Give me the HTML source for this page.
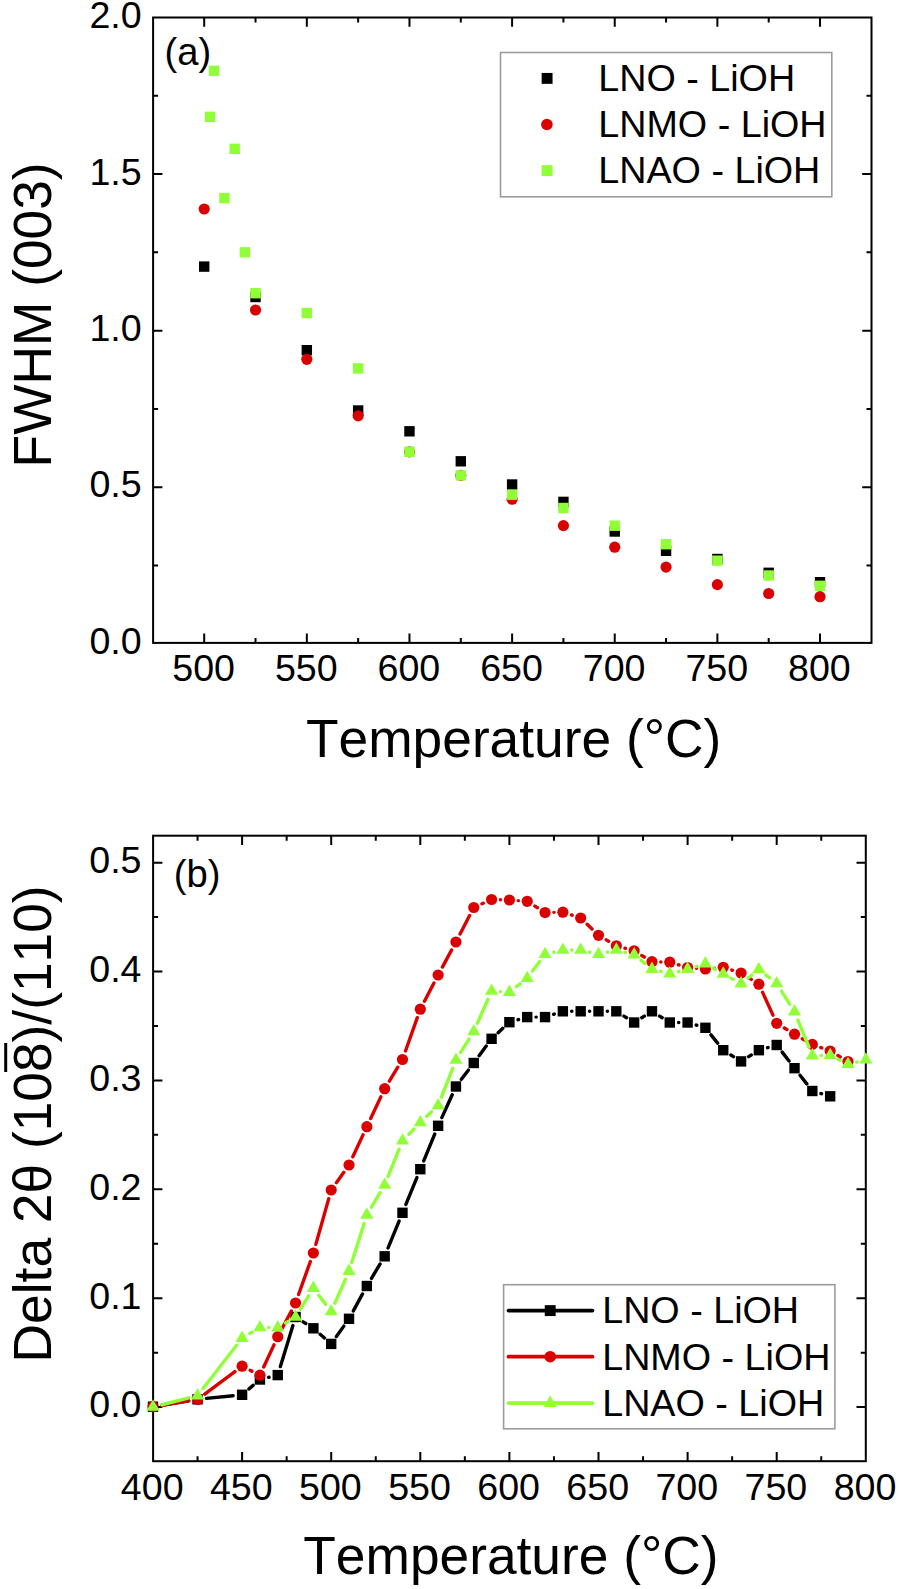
<!DOCTYPE html>
<html><head><meta charset="utf-8"><title>FWHM and Delta 2theta vs Temperature</title>
<style>html,body{margin:0;padding:0;background:#fff;}svg{display:block;}text{fill:#000;font-kerning:none;}</style></head>
<body><svg width="900" height="1589" viewBox="0 0 900 1589" style="font-family:'Liberation Sans',Arial,sans-serif">
<rect width="900" height="1589" fill="#fff"/>
<rect x="153.1" y="17.5" width="718.4" height="625.4" fill="none" stroke="#000" stroke-width="2.0"/>
<path d="M204.2 642.9v-9.3M204.2 17.5v9.3M306.83 642.9v-9.3M306.83 17.5v9.3M409.47 642.9v-9.3M409.47 17.5v9.3M512.11 642.9v-9.3M512.11 17.5v9.3M614.74 642.9v-9.3M614.74 17.5v9.3M717.38 642.9v-9.3M717.38 17.5v9.3M820.01 642.9v-9.3M820.01 17.5v9.3M255.52 642.9v-5.0M255.52 17.5v5.0M358.15 642.9v-5.0M358.15 17.5v5.0M460.79 642.9v-5.0M460.79 17.5v5.0M563.42 642.9v-5.0M563.42 17.5v5.0M666.06 642.9v-5.0M666.06 17.5v5.0M768.69 642.9v-5.0M768.69 17.5v5.0M153.1 487.27h9.3M871.5 487.27h-9.3M153.1 330.65h9.3M871.5 330.65h-9.3M153.1 174.02h9.3M871.5 174.02h-9.3M153.1 565.59h5.0M871.5 565.59h-5.0M153.1 408.96h5.0M871.5 408.96h-5.0M153.1 252.34h5.0M871.5 252.34h-5.0M153.1 95.71h5.0M871.5 95.71h-5.0" stroke="#000" stroke-width="2.0" fill="none"/>
<text x="141.7" y="653.8" text-anchor="end" font-size="37.6">0.0</text>
<text x="141.7" y="497.4" text-anchor="end" font-size="37.6">0.5</text>
<text x="141.7" y="340.9" text-anchor="end" font-size="37.6">1.0</text>
<text x="141.7" y="185.1" text-anchor="end" font-size="37.6">1.5</text>
<text x="141.7" y="28.4" text-anchor="end" font-size="37.6">2.0</text>
<text x="203.6" y="681.3" text-anchor="middle" font-size="37.6">500</text>
<text x="306.23" y="681.3" text-anchor="middle" font-size="37.6">550</text>
<text x="408.87" y="681.3" text-anchor="middle" font-size="37.6">600</text>
<text x="511.5" y="681.3" text-anchor="middle" font-size="37.6">650</text>
<text x="614.14" y="681.3" text-anchor="middle" font-size="37.6">700</text>
<text x="716.77" y="681.3" text-anchor="middle" font-size="37.6">750</text>
<text x="819.41" y="681.3" text-anchor="middle" font-size="37.6">800</text>
<text x="306.0" y="756.6" font-size="53.3">Temperature (°C)</text>
<text transform="translate(51,467.4) rotate(-90)" font-size="53.3">FWHM (003)</text>
<text x="164.5" y="64.8" font-size="38.2">(a)</text>
<rect x="199" y="261.4" width="10.4" height="10.4" fill="#000000"/>
<rect x="250.32" y="291.8" width="10.4" height="10.4" fill="#000000"/>
<rect x="301.63" y="345" width="10.4" height="10.4" fill="#000000"/>
<rect x="352.95" y="405.3" width="10.4" height="10.4" fill="#000000"/>
<rect x="404.27" y="426.1" width="10.4" height="10.4" fill="#000000"/>
<rect x="455.59" y="456.1" width="10.4" height="10.4" fill="#000000"/>
<rect x="506.91" y="479.3" width="10.4" height="10.4" fill="#000000"/>
<rect x="558.22" y="496.7" width="10.4" height="10.4" fill="#000000"/>
<rect x="609.54" y="526.3" width="10.4" height="10.4" fill="#000000"/>
<rect x="660.86" y="545.6" width="10.4" height="10.4" fill="#000000"/>
<rect x="712.17" y="553.8" width="10.4" height="10.4" fill="#000000"/>
<rect x="763.49" y="567.6" width="10.4" height="10.4" fill="#000000"/>
<rect x="814.81" y="577" width="10.4" height="10.4" fill="#000000"/>
<circle cx="204.2" cy="209" r="5.6" fill="#DB0000"/>
<circle cx="255.52" cy="310" r="5.6" fill="#DB0000"/>
<circle cx="306.83" cy="359.3" r="5.6" fill="#DB0000"/>
<circle cx="358.15" cy="415.8" r="5.6" fill="#DB0000"/>
<circle cx="409.47" cy="451.8" r="5.6" fill="#DB0000"/>
<circle cx="460.79" cy="475.4" r="5.6" fill="#DB0000"/>
<circle cx="512.11" cy="499.2" r="5.6" fill="#DB0000"/>
<circle cx="563.42" cy="525.6" r="5.6" fill="#DB0000"/>
<circle cx="614.74" cy="547.2" r="5.6" fill="#DB0000"/>
<circle cx="666.06" cy="567.1" r="5.6" fill="#DB0000"/>
<circle cx="717.38" cy="584.6" r="5.6" fill="#DB0000"/>
<circle cx="768.69" cy="593.5" r="5.6" fill="#DB0000"/>
<circle cx="820.01" cy="596.7" r="5.6" fill="#DB0000"/>
<rect x="208.8" y="65.6" width="10.4" height="10.4" fill="#91FF38"/>
<rect x="204.8" y="111.6" width="10.4" height="10.4" fill="#91FF38"/>
<rect x="229.5" y="143.6" width="10.4" height="10.4" fill="#91FF38"/>
<rect x="219.2" y="192.9" width="10.4" height="10.4" fill="#91FF38"/>
<rect x="239.7" y="247.1" width="10.4" height="10.4" fill="#91FF38"/>
<rect x="250.32" y="288" width="10.4" height="10.4" fill="#91FF38"/>
<rect x="301.63" y="307.8" width="10.4" height="10.4" fill="#91FF38"/>
<rect x="352.95" y="363.2" width="10.4" height="10.4" fill="#91FF38"/>
<rect x="404.27" y="446.6" width="10.4" height="10.4" fill="#91FF38"/>
<rect x="455.59" y="470.2" width="10.4" height="10.4" fill="#91FF38"/>
<rect x="506.91" y="489.5" width="10.4" height="10.4" fill="#91FF38"/>
<rect x="558.22" y="502.8" width="10.4" height="10.4" fill="#91FF38"/>
<rect x="609.54" y="520.5" width="10.4" height="10.4" fill="#91FF38"/>
<rect x="660.86" y="539" width="10.4" height="10.4" fill="#91FF38"/>
<rect x="712.17" y="555.5" width="10.4" height="10.4" fill="#91FF38"/>
<rect x="763.49" y="570.3" width="10.4" height="10.4" fill="#91FF38"/>
<rect x="814.81" y="580.6" width="10.4" height="10.4" fill="#91FF38"/>
<rect x="500.5" y="52.5" width="331.3" height="144.3" fill="none" stroke="#9c9c9c" stroke-width="1.6"/>
<rect x="541.65" y="72.95" width="10.9" height="10.9" fill="#000000"/>
<circle cx="546.9" cy="124.5" r="5.8" fill="#DB0000"/>
<rect x="541.65" y="165.15" width="10.9" height="10.9" fill="#91FF38"/>
<text x="598.3" y="90.8" font-size="37.7">LNO - LiOH</text>
<text x="598.3" y="136.7" font-size="37.7">LNMO - LiOH</text>
<text x="598.3" y="183.0" font-size="37.7">LNAO - LiOH</text>
<rect x="153.1" y="835.7" width="712.7" height="625.5" fill="none" stroke="#000" stroke-width="2.0"/>
<path d="M242.1 1461.2v-9.3M242.1 835.7v9.3M331.2 1461.2v-9.3M331.2 835.7v9.3M420.3 1461.2v-9.3M420.3 835.7v9.3M509.4 1461.2v-9.3M509.4 835.7v9.3M598.5 1461.2v-9.3M598.5 835.7v9.3M687.6 1461.2v-9.3M687.6 835.7v9.3M776.7 1461.2v-9.3M776.7 835.7v9.3M197.55 1461.2v-5.0M197.55 835.7v5.0M286.65 1461.2v-5.0M286.65 835.7v5.0M375.75 1461.2v-5.0M375.75 835.7v5.0M464.85 1461.2v-5.0M464.85 835.7v5.0M553.95 1461.2v-5.0M553.95 835.7v5.0M643.05 1461.2v-5.0M643.05 835.7v5.0M732.15 1461.2v-5.0M732.15 835.7v5.0M821.25 1461.2v-5.0M821.25 835.7v5.0M153.1 1407.07h9.3M865.8 1407.07h-9.3M153.1 1298.19h9.3M865.8 1298.19h-9.3M153.1 1189.31h9.3M865.8 1189.31h-9.3M153.1 1080.43h9.3M865.8 1080.43h-9.3M153.1 971.55h9.3M865.8 971.55h-9.3M153.1 862.67h9.3M865.8 862.67h-9.3M153.1 1352.63h5.0M865.8 1352.63h-5.0M153.1 1243.75h5.0M865.8 1243.75h-5.0M153.1 1134.87h5.0M865.8 1134.87h-5.0M153.1 1025.99h5.0M865.8 1025.99h-5.0M153.1 917.11h5.0M865.8 917.11h-5.0" stroke="#000" stroke-width="2.0" fill="none"/>
<text x="141.5" y="1417.47" text-anchor="end" font-size="37.6">0.0</text>
<text x="141.5" y="1308.59" text-anchor="end" font-size="37.6">0.1</text>
<text x="141.5" y="1199.71" text-anchor="end" font-size="37.6">0.2</text>
<text x="141.5" y="1090.83" text-anchor="end" font-size="37.6">0.3</text>
<text x="141.5" y="981.95" text-anchor="end" font-size="37.6">0.4</text>
<text x="141.5" y="873.07" text-anchor="end" font-size="37.6">0.5</text>
<text x="152.2" y="1500.3" text-anchor="middle" font-size="37.6">400</text>
<text x="241.3" y="1500.3" text-anchor="middle" font-size="37.6">450</text>
<text x="330.4" y="1500.3" text-anchor="middle" font-size="37.6">500</text>
<text x="419.5" y="1500.3" text-anchor="middle" font-size="37.6">550</text>
<text x="508.6" y="1500.3" text-anchor="middle" font-size="37.6">600</text>
<text x="597.7" y="1500.3" text-anchor="middle" font-size="37.6">650</text>
<text x="686.8" y="1500.3" text-anchor="middle" font-size="37.6">700</text>
<text x="775.9" y="1500.3" text-anchor="middle" font-size="37.6">750</text>
<text x="865" y="1500.3" text-anchor="middle" font-size="37.6">800</text>
<text x="303.3" y="1574.0" font-size="53.3">Temperature (°C)</text>
<text transform="translate(51,1362.4) rotate(-90)" font-size="53.3">Delta 2θ (108)/(110)</text>
<rect x="4.2" y="1043" width="3" height="29" fill="#000"/>
<text x="173.8" y="887.4" font-size="38.2">(b)</text>
<path d="M161.88 1405.23L188.67 1400.77M206.5 1398.4L233.15 1395.7M248.93 1388.94L253.09 1385.36M268.66 1377.34L269 1377.26M280.38 1366.5L292.92 1325.6M303.16 1321.82L305.78 1323.48M320.15 1334.23L324.43 1337.97M336.41 1336.56L343.81 1326.14M353.32 1310.89L362.54 1293.91M371.47 1278.28L380.03 1264.02M388.07 1247.97L399.07 1221.13M405.89 1204.47L416.89 1177.53M423.72 1160.87L434.7 1134.13M441.84 1117.6L452.22 1094.7M461.38 1079.33L468.32 1070.17M479.1 1055.75L486.24 1046.05M498.17 1032.67L502.81 1028.33M518.05 1019.72L518.57 1019.58M536.22 1017.1L536.04 1017.1M553.6 1014.31L554.3 1014.09M571.86 1011.3L571.68 1011.3M589.68 1011.3L589.5 1011.3M607.5 1011.3L607.32 1011.3M623.94 1016.09L626.52 1017.71M641.76 1017.71L644.34 1016.09M659.58 1016.09L662.16 1017.71M678.78 1022.5L678.6 1022.5M696.23 1025.07L696.79 1025.23M711.02 1034.84L717.64 1043.16M730.86 1054.99L733.44 1056.61M748.68 1056.61L751.26 1054.99M767.52 1047.68L768.06 1047.52M782.18 1052.14L789.04 1061.06M800.06 1075.29L806.8 1083.91M820.97 1093.57L821.53 1093.73" stroke="#000000" stroke-width="3.4" stroke-linecap="round" fill="none"/>
<rect x="147.8" y="1401.5" width="10.4" height="10.4" fill="#000000"/>
<rect x="192.35" y="1394.1" width="10.4" height="10.4" fill="#000000"/>
<rect x="236.9" y="1389.6" width="10.4" height="10.4" fill="#000000"/>
<rect x="254.72" y="1374.3" width="10.4" height="10.4" fill="#000000"/>
<rect x="272.54" y="1369.9" width="10.4" height="10.4" fill="#000000"/>
<rect x="290.36" y="1311.8" width="10.4" height="10.4" fill="#000000"/>
<rect x="308.18" y="1323.1" width="10.4" height="10.4" fill="#000000"/>
<rect x="326" y="1338.7" width="10.4" height="10.4" fill="#000000"/>
<rect x="343.82" y="1313.6" width="10.4" height="10.4" fill="#000000"/>
<rect x="361.64" y="1280.8" width="10.4" height="10.4" fill="#000000"/>
<rect x="379.46" y="1251.1" width="10.4" height="10.4" fill="#000000"/>
<rect x="397.28" y="1207.6" width="10.4" height="10.4" fill="#000000"/>
<rect x="415.1" y="1164" width="10.4" height="10.4" fill="#000000"/>
<rect x="432.92" y="1120.6" width="10.4" height="10.4" fill="#000000"/>
<rect x="450.74" y="1081.3" width="10.4" height="10.4" fill="#000000"/>
<rect x="468.56" y="1057.8" width="10.4" height="10.4" fill="#000000"/>
<rect x="486.38" y="1033.6" width="10.4" height="10.4" fill="#000000"/>
<rect x="504.2" y="1017" width="10.4" height="10.4" fill="#000000"/>
<rect x="522.02" y="1011.9" width="10.4" height="10.4" fill="#000000"/>
<rect x="539.84" y="1011.9" width="10.4" height="10.4" fill="#000000"/>
<rect x="557.66" y="1006.1" width="10.4" height="10.4" fill="#000000"/>
<rect x="575.48" y="1006.1" width="10.4" height="10.4" fill="#000000"/>
<rect x="593.3" y="1006.1" width="10.4" height="10.4" fill="#000000"/>
<rect x="611.12" y="1006.1" width="10.4" height="10.4" fill="#000000"/>
<rect x="628.94" y="1017.3" width="10.4" height="10.4" fill="#000000"/>
<rect x="646.76" y="1006.1" width="10.4" height="10.4" fill="#000000"/>
<rect x="664.58" y="1017.3" width="10.4" height="10.4" fill="#000000"/>
<rect x="682.4" y="1017.3" width="10.4" height="10.4" fill="#000000"/>
<rect x="700.22" y="1022.6" width="10.4" height="10.4" fill="#000000"/>
<rect x="718.04" y="1045" width="10.4" height="10.4" fill="#000000"/>
<rect x="735.86" y="1056.2" width="10.4" height="10.4" fill="#000000"/>
<rect x="753.68" y="1045" width="10.4" height="10.4" fill="#000000"/>
<rect x="771.5" y="1039.8" width="10.4" height="10.4" fill="#000000"/>
<rect x="789.32" y="1063" width="10.4" height="10.4" fill="#000000"/>
<rect x="807.14" y="1085.8" width="10.4" height="10.4" fill="#000000"/>
<rect x="824.96" y="1091.1" width="10.4" height="10.4" fill="#000000"/>
<path d="M161.88 1405.26L188.67 1400.94M204.76 1394.11L234.89 1371.59M250.13 1370.26L251.89 1371.14M263.7 1367.03L273.96 1344.87M281.95 1328.74L291.35 1310.96M298.58 1294.52L310.36 1261.48M315.83 1244.34L328.75 1198.66M336.42 1182.67L343.8 1172.33M352.82 1156.84L363.04 1134.86M370.66 1118.55L380.84 1096.85M389.35 1081.02L397.79 1067.18M405.49 1051.02L417.29 1017.68M424.46 1001.22L433.96 982.98M442.4 967.08L451.66 949.92M460.07 934L469.63 915.5M481.97 903.81L483.37 903.19M500.58 899.75L500.4 899.75M518.38 900.65L518.24 900.65M534.84 906.09L537.42 907.71M554.04 912.35L553.86 912.35M571.42 914.99L572.12 915.21M587.14 924.27L592.04 929.03M606.25 939.87L608.57 941.23M624.99 948.23L625.47 948.37M641.82 955.5L644.28 957M660.96 961.95L660.78 961.95M678.41 964.77L678.97 964.93M696.57 968.25L696.45 968.25M714.38 968.15L714.28 968.15M731.81 970.04L732.49 970.26M748.68 977.79L751.26 979.41M762.61 992.39L772.97 1015.11M784.38 1028L786.84 1029.5M802.33 1038.67L804.53 1039.93M820.78 1047.53L821.72 1047.87M837.91 1055.57L840.23 1056.93" stroke="#DB0000" stroke-width="3.4" stroke-linecap="round" fill="none"/>
<circle cx="153" cy="1406.7" r="5.6" fill="#DB0000"/>
<circle cx="197.55" cy="1399.5" r="5.6" fill="#DB0000"/>
<circle cx="242.1" cy="1366.2" r="5.6" fill="#DB0000"/>
<circle cx="259.92" cy="1375.2" r="5.6" fill="#DB0000"/>
<circle cx="277.74" cy="1336.7" r="5.6" fill="#DB0000"/>
<circle cx="295.56" cy="1303" r="5.6" fill="#DB0000"/>
<circle cx="313.38" cy="1253" r="5.6" fill="#DB0000"/>
<circle cx="331.2" cy="1190" r="5.6" fill="#DB0000"/>
<circle cx="349.02" cy="1165" r="5.6" fill="#DB0000"/>
<circle cx="366.84" cy="1126.7" r="5.6" fill="#DB0000"/>
<circle cx="384.66" cy="1088.7" r="5.6" fill="#DB0000"/>
<circle cx="402.48" cy="1059.5" r="5.6" fill="#DB0000"/>
<circle cx="420.3" cy="1009.2" r="5.6" fill="#DB0000"/>
<circle cx="438.12" cy="975" r="5.6" fill="#DB0000"/>
<circle cx="455.94" cy="942" r="5.6" fill="#DB0000"/>
<circle cx="473.76" cy="907.5" r="5.6" fill="#DB0000"/>
<circle cx="491.58" cy="899.5" r="5.6" fill="#DB0000"/>
<circle cx="509.4" cy="900" r="5.6" fill="#DB0000"/>
<circle cx="527.22" cy="901.3" r="5.6" fill="#DB0000"/>
<circle cx="545.04" cy="912.5" r="5.6" fill="#DB0000"/>
<circle cx="562.86" cy="912.2" r="5.6" fill="#DB0000"/>
<circle cx="580.68" cy="918" r="5.6" fill="#DB0000"/>
<circle cx="598.5" cy="935.3" r="5.6" fill="#DB0000"/>
<circle cx="616.32" cy="945.8" r="5.6" fill="#DB0000"/>
<circle cx="634.14" cy="950.8" r="5.6" fill="#DB0000"/>
<circle cx="651.96" cy="961.7" r="5.6" fill="#DB0000"/>
<circle cx="669.78" cy="962.2" r="5.6" fill="#DB0000"/>
<circle cx="687.6" cy="967.5" r="5.6" fill="#DB0000"/>
<circle cx="705.42" cy="969" r="5.6" fill="#DB0000"/>
<circle cx="723.24" cy="967.3" r="5.6" fill="#DB0000"/>
<circle cx="741.06" cy="973" r="5.6" fill="#DB0000"/>
<circle cx="758.88" cy="984.2" r="5.6" fill="#DB0000"/>
<circle cx="776.7" cy="1023.3" r="5.6" fill="#DB0000"/>
<circle cx="794.52" cy="1034.2" r="5.6" fill="#DB0000"/>
<circle cx="812.34" cy="1044.4" r="5.6" fill="#DB0000"/>
<circle cx="830.16" cy="1051" r="5.6" fill="#DB0000"/>
<circle cx="847.98" cy="1061.5" r="5.6" fill="#DB0000"/>
<path d="M161.72 1404.77L188.83 1397.83M203.06 1388.49L236.59 1345.21M249.83 1333.5L252.19 1332.1M268.92 1327.55L268.74 1327.55M285.47 1323L287.83 1321.6M300.3 1309.35L308.64 1295.85M318.85 1295.35L325.73 1304.35M334.83 1303.27L345.39 1279.33M351.74 1262.52L364.12 1223.48M371.45 1207.17L380.05 1192.73M388.03 1176.65L399.11 1149.15M408.76 1134.35L414.02 1128.95M426.81 1116.29L431.61 1111.71M441.4 1097.12L452.66 1068.38M460.71 1052.37L468.99 1039.13M477.38 1023.26L487.96 999.24M500.56 991.6L500.42 991.6M516.5 986.66L520.12 983.84M532.59 971.07L539.67 961.53M553.79 952.19L554.11 952.11M571.86 950L571.68 950M589.43 952.11L589.75 952.19M607.24 952.14L607.58 952.06M625.01 952.24L625.45 952.36M641.14 960.36L644.96 963.44M660.66 971.4L661.08 971.5M678.49 971.55L678.89 971.45M696.2 966.55L696.82 966.35M713.23 968.17L715.43 969.43M731.14 978.2L733.16 979.3M748.1 977.99L751.84 975.01M765.94 974.98L769.64 977.92M781.51 991.11L789.71 1004.09M797.91 1020.04L808.95 1047.26M821.34 1055.45L821.16 1055.45M838.19 1059.36L839.95 1060.24M856.71 1062.1L857.07 1062" stroke="#91FF38" stroke-width="3.4" stroke-linecap="round" fill="none"/>
<path d="M153 1399.4L159.58 1410.8L146.42 1410.8Z" fill="#91FF38"/>
<path d="M197.55 1388L204.13 1399.4L190.97 1399.4Z" fill="#91FF38"/>
<path d="M242.1 1330.5L248.68 1341.9L235.52 1341.9Z" fill="#91FF38"/>
<path d="M259.92 1319.9L266.5 1331.3L253.34 1331.3Z" fill="#91FF38"/>
<path d="M277.74 1320L284.32 1331.4L271.16 1331.4Z" fill="#91FF38"/>
<path d="M295.56 1309.4L302.14 1320.8L288.98 1320.8Z" fill="#91FF38"/>
<path d="M313.38 1280.6L319.96 1292L306.8 1292Z" fill="#91FF38"/>
<path d="M331.2 1303.9L337.78 1315.3L324.62 1315.3Z" fill="#91FF38"/>
<path d="M349.02 1263.5L355.6 1274.9L342.44 1274.9Z" fill="#91FF38"/>
<path d="M366.84 1207.3L373.42 1218.7L360.26 1218.7Z" fill="#91FF38"/>
<path d="M384.66 1177.4L391.24 1188.8L378.08 1188.8Z" fill="#91FF38"/>
<path d="M402.48 1133.2L409.06 1144.6L395.9 1144.6Z" fill="#91FF38"/>
<path d="M420.3 1114.9L426.88 1126.3L413.72 1126.3Z" fill="#91FF38"/>
<path d="M438.12 1097.9L444.7 1109.3L431.54 1109.3Z" fill="#91FF38"/>
<path d="M455.94 1052.4L462.52 1063.8L449.36 1063.8Z" fill="#91FF38"/>
<path d="M473.76 1023.9L480.34 1035.3L467.18 1035.3Z" fill="#91FF38"/>
<path d="M491.58 983.4L498.16 994.8L485 994.8Z" fill="#91FF38"/>
<path d="M509.4 984.6L515.98 996L502.82 996Z" fill="#91FF38"/>
<path d="M527.22 970.7L533.8 982.1L520.64 982.1Z" fill="#91FF38"/>
<path d="M545.04 946.7L551.62 958.1L538.46 958.1Z" fill="#91FF38"/>
<path d="M562.86 942.4L569.44 953.8L556.28 953.8Z" fill="#91FF38"/>
<path d="M580.68 942.4L587.26 953.8L574.1 953.8Z" fill="#91FF38"/>
<path d="M598.5 946.7L605.08 958.1L591.92 958.1Z" fill="#91FF38"/>
<path d="M616.32 942.3L622.9 953.7L609.74 953.7Z" fill="#91FF38"/>
<path d="M634.14 947.1L640.72 958.5L627.56 958.5Z" fill="#91FF38"/>
<path d="M651.96 961.5L658.54 972.9L645.38 972.9Z" fill="#91FF38"/>
<path d="M669.78 966.2L676.36 977.6L663.2 977.6Z" fill="#91FF38"/>
<path d="M687.6 961.6L694.18 973L681.02 973Z" fill="#91FF38"/>
<path d="M705.42 956.1L712 967.5L698.84 967.5Z" fill="#91FF38"/>
<path d="M723.24 966.3L729.82 977.7L716.66 977.7Z" fill="#91FF38"/>
<path d="M741.06 976L747.64 987.4L734.48 987.4Z" fill="#91FF38"/>
<path d="M758.88 961.8L765.46 973.2L752.3 973.2Z" fill="#91FF38"/>
<path d="M776.7 975.9L783.28 987.3L770.12 987.3Z" fill="#91FF38"/>
<path d="M794.52 1004.1L801.1 1015.5L787.94 1015.5Z" fill="#91FF38"/>
<path d="M812.34 1048L818.92 1059.4L805.76 1059.4Z" fill="#91FF38"/>
<path d="M830.16 1047.7L836.74 1059.1L823.58 1059.1Z" fill="#91FF38"/>
<path d="M847.98 1056.7L854.56 1068.1L841.4 1068.1Z" fill="#91FF38"/>
<path d="M865.8 1052.2L872.38 1063.6L859.22 1063.6Z" fill="#91FF38"/>
<rect x="503.6" y="1284.7" width="331.3" height="144.1" fill="none" stroke="#9c9c9c" stroke-width="1.6"/>
<path d="M508.5 1310.6H592.5" stroke="#000000" stroke-width="3.6999999999999997" stroke-linecap="round"/>
<rect x="544.75" y="1305.15" width="10.9" height="10.9" fill="#000000"/>
<path d="M508.5 1356.7H592.5" stroke="#DB0000" stroke-width="3.6999999999999997" stroke-linecap="round"/>
<circle cx="550.2" cy="1356.7" r="5.8" fill="#DB0000"/>
<path d="M508.5 1403.2H592.5" stroke="#91FF38" stroke-width="3.6999999999999997" stroke-linecap="round"/>
<path d="M550.2 1395.5L556.87 1407.05L543.53 1407.05Z" fill="#91FF38"/>
<text x="602.2" y="1323.0" font-size="37.7">LNO - LiOH</text>
<text x="602.2" y="1369.5" font-size="37.7">LNMO - LiOH</text>
<text x="602.2" y="1415.8" font-size="37.7">LNAO - LiOH</text>
</svg></body></html>
